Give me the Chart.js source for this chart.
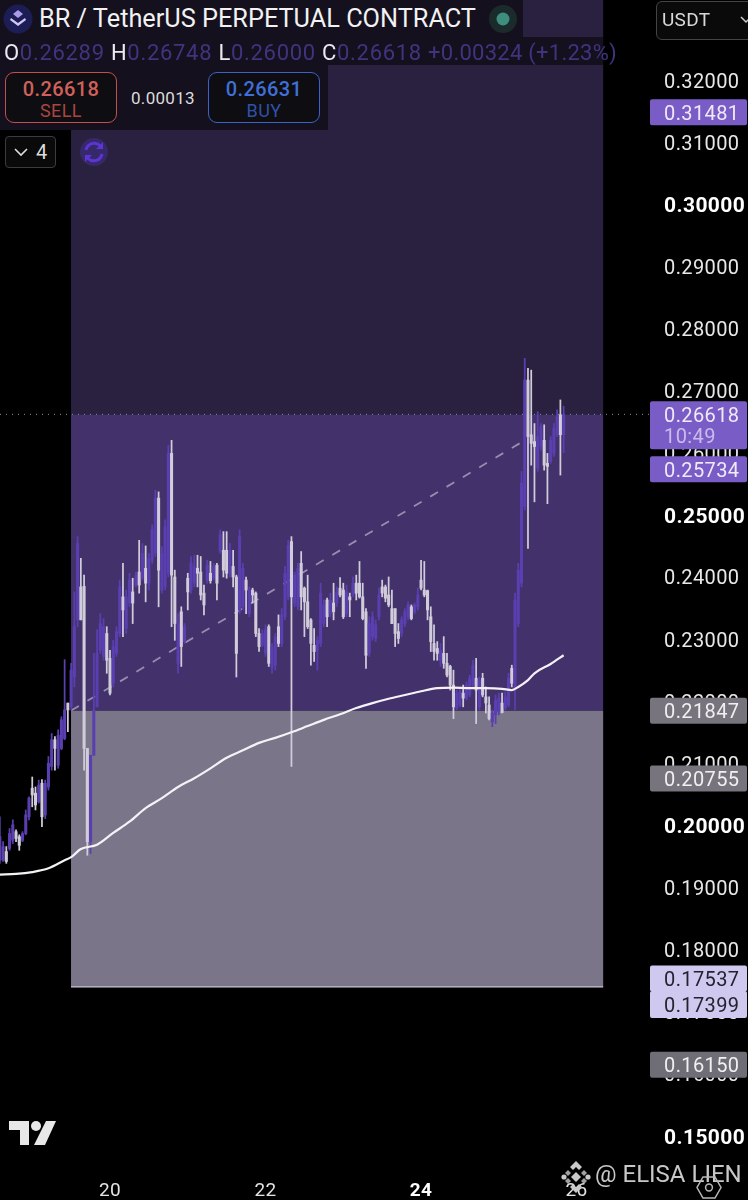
<!DOCTYPE html>
<html lang="en">
<head>
<meta charset="UTF-8">
<title>BR / TetherUS PERPETUAL CONTRACT</title>
<script src="https://cdn.jsdelivr.net/npm/chart.js"></script>
<style>
  html, body { margin: 0; padding: 0; background: #000; }
  #wrap { position: relative; width: 748px; height: 1200px; overflow: hidden; font-family: Roboto, sans-serif; }
  #chart { position: absolute; left: 0; top: 0; filter: blur(.3px); }
  .abs { position: absolute; white-space: nowrap; }
  .band { position: absolute; background: #14101d; }
  .btn { position: absolute; top: 72px; height: 49px; width: 110px; border-radius: 9px; background: #0e0d12; text-align: center; border: 1.5px solid; }
  .btn b { display: block; font-weight: 500; font-size: 20px; line-height: 20px; margin-top: 6px; letter-spacing: .4px; }
  .btn span { display: block; font-size: 18px; line-height: 20px; margin-top: 2px; letter-spacing: .4px; }
  .dim { color: #41347f; }
  .lt { color: #ece9f2; }
</style>
</head>
<body>
<div id="wrap">
  <canvas id="chart" width="748" height="1200"></canvas>

  <!-- header -->
  <div class="band" style="left:0;top:0;width:523px;height:37px"></div>
  <div class="band" style="left:0;top:37px;width:603px;height:28px"></div>
  <div class="band" style="left:0;top:65px;width:328px;height:65px"></div>

  <svg class="abs" style="left:3px;top:4px" width="30" height="30" viewBox="0 0 30 30">
    <circle cx="15" cy="15" r="14.5" fill="#1c1d55"/>
    <path d="M15 6l5 4-5 4-5-4z" fill="#a99be8"/>
    <path d="M8 14l7 5 7-5 1 2-8 6-8-6z" fill="#cfc6f4"/>
  </svg>
  <div class="abs" style="left:39px;top:4px;font-size:25.3px;line-height:30px;color:#f2f2f2">BR / TetherUS PERPETUAL CONTRACT</div>
  <svg class="abs" style="left:489px;top:5px" width="28" height="28">
    <circle cx="14" cy="14" r="14" fill="#1b2b2c"/>
    <circle cx="14" cy="14" r="6.5" fill="#3f8d7c"/>
  </svg>
  <div class="abs" style="left:4px;top:40px;font-size:22px;line-height:26px;letter-spacing:.7px">
    <span class="lt">O</span><span class="dim">0.26289</span>
    <span class="lt">H</span><span class="dim">0.26748</span>
    <span class="lt">L</span><span class="dim">0.26000</span>
    <span class="lt">C</span><span class="dim">0.26618</span>
    <span class="dim" style="letter-spacing:.25px">+0.00324 (+1.23%)</span>
  </div>

  <div class="btn" style="left:5px;border-color:#c4504e"><b style="color:#d0605a">0.26618</b><span style="color:#a8473f">SELL</span></div>
  <div class="abs" style="left:131px;top:88px;font-size:17px;line-height:20px;color:#dcdcdc;letter-spacing:.3px">0.00013</div>
  <div class="btn" style="left:208px;border-color:#3d62c6"><b style="color:#406fd6">0.26631</b><span style="color:#2f52a8">BUY</span></div>

  <div class="abs" style="left:5px;top:136px;width:49px;height:30px;border:1px solid #3c3c3c;border-radius:4px;background:#0a0a0a"></div>
  <svg class="abs" style="left:13px;top:146px" width="16" height="12"><path d="M2 3l6 6 6-6" fill="none" stroke="#ddd" stroke-width="1.6"/></svg>
  <div class="abs" style="left:36px;top:140px;font-size:20px;line-height:24px;color:#dddddd">4</div>

  <svg class="abs" style="left:79px;top:137px" width="30" height="30" viewBox="0 0 30 30">
    <circle cx="15" cy="15" r="14" fill="#36296a"/>
    <path d="M7 13a8.4 8.4 0 0 1 14-4.5" fill="none" stroke="#5e34d6" stroke-width="3"/>
    <path d="M23 17a8.4 8.4 0 0 1-14 4.5" fill="none" stroke="#5e34d6" stroke-width="3"/>
    <path d="M24 5v7h-7z M6 25v-7h7z" fill="#5e34d6"/>
  </svg>

  <div class="abs" style="left:656px;top:1px;width:100px;height:37px;border:1px solid #444;border-radius:6px;background:#0a0a0a"></div>
  <div class="abs" style="left:662px;top:8px;font-size:19px;line-height:24px;color:#d8d8d8;letter-spacing:.3px">USDT</div>
  <svg class="abs" style="left:740px;top:15px" width="8" height="10"><path d="M1 2l5 5 5-5" fill="none" stroke="#ccc" stroke-width="1.5"/></svg>

  <!-- footer marks -->
  <svg class="abs" style="left:9px;top:1121px" width="47" height="24" viewBox="0 0 47 24" fill="#e8e8e8">
    <path d="M0 0h20v24h-9V9H0z"/><circle cx="27" cy="5" r="5"/><path d="M37 0h10L36 24H25z"/>
  </svg>
  <svg class="abs" style="left:561px;top:1160px" width="30" height="34" viewBox="0 0 30 34" fill="#c9c9c9">
    <path d="M15 1l6 6-3 3-3-3-3 3-3-3z"/><path d="M15 33l6-6-3-3-3 3-3-3-3 3z"/>
    <path d="M15 12l5 5-5 5-5-5z"/><circle cx="3" cy="17" r="2.6"/><circle cx="27" cy="17" r="2.6"/>
    <path d="M7 10l3 3-3 3-3-3z" opacity=".8"/><path d="M23 10l3 3-3 3-3-3z" opacity=".8"/>
    <path d="M7 18l3 3-3 3-3-3z" opacity=".8"/><path d="M23 18l3 3-3 3-3-3z" opacity=".8"/>
  </svg>
  <div class="abs" style="left:595px;top:1159px;font-size:24px;line-height:30px;color:#c8c8c8">@ ELISA LIEN</div>
  <svg class="abs" style="left:696px;top:1175px" width="26" height="25" viewBox="0 0 26 25">
    <path d="M7 2h12l6 10.5L19 23H7L1 12.5z" fill="none" stroke="#b8b8b8" stroke-width="1.5"/>
    <circle cx="13" cy="12.5" r="3.4" fill="none" stroke="#b8b8b8" stroke-width="1.5"/>
  </svg>
</div>

<script>
const firstHour = -34; // hours relative to the "20" tick, one candle per hour

const opens = [
  0.1944,0.1944,0.1958,0.1963,0.1976,0.1990,0.1982,0.1976,0.1987,0.2014,
  0.2060,0.2052,0.2038,0.2068,0.2017,0.2062,0.2095,0.2138,0.2097,0.2124,
  0.2140,0.2197,0.2191,0.2239,0.2331,0.2384,0.2385,0.2124,0.1974,0.2113,
  0.2191,0.2282,0.2272,0.2309,0.2269,0.2229,0.2277,0.2309,0.2368,0.2317,
  0.2358,0.2376,0.2387,0.2408,0.2398,0.2414,0.2390,0.2427,0.2438,0.2527,
  0.2379,0.2384,0.2406,0.2599,0.2400,0.2261,0.2344,0.2296,0.2398,0.2379,
  0.2390,0.2414,0.2408,0.2374,0.2395,0.2406,0.2398,0.2419,0.2441,0.2443,
  0.2443,0.2406,0.2417,0.2400,0.2347,0.2352,0.2395,0.2341,0.2379,0.2374,
  0.2309,0.2290,0.2277,0.2320,0.2253,0.2258,0.2320,0.2293,0.2336,0.2368,
  0.2457,0.2358,0.2352,0.2422,0.2382,0.2360,0.2331,0.2290,0.2282,0.2293,
  0.2325,0.2363,0.2341,0.2358,0.2358,0.2382,0.2379,0.2341,0.2368,0.2371,
  0.2390,0.2390,0.2368,0.2344,0.2277,0.2304,0.2301,0.2336,0.2384,0.2384,
  0.2371,0.2349,0.2349,0.2312,0.2309,0.2325,0.2336,0.2352,0.2344,0.2352,
  0.2395,0.2379,0.2378,0.2336,0.2293,0.2285,0.2266,0.2277,0.2261,0.2256,
  0.2226,0.2189,0.2194,0.2213,0.2205,0.2210,0.2226,0.2237,0.2191,0.2237,
  0.2207,0.2194,0.2167,0.2178,0.2183,0.2197,0.2189,0.2194,0.2253,0.2218,
  0.2325,0.2390,0.2513,0.2717,0.2629,0.2618,0.2575,0.2610,0.2620,0.2583,
  0.2586,0.2599,0.2629,0.2661,0.26289
];
const highs = [
  0.2014,0.1974,0.1966,0.1995,0.2009,0.1993,0.1985,0.1990,0.2025,0.2046,
  0.2078,0.2062,0.2073,0.2074,0.2073,0.2111,0.2148,0.2143,0.2154,0.2175,
  0.2267,0.2197,0.2261,0.2376,0.2465,0.2430,0.2403,0.2124,0.2113,0.2277,
  0.2315,0.2341,0.2333,0.2320,0.2282,0.2298,0.2320,0.2395,0.2422,0.2379,
  0.2406,0.2398,0.2408,0.2459,0.2454,0.2450,0.2438,0.2484,0.2540,0.2537,
  0.2449,0.2492,0.2612,0.2620,0.2411,0.2341,0.2352,0.2325,0.2406,0.2433,
  0.2435,0.2435,0.2433,0.2387,0.2427,0.2425,0.2422,0.2422,0.2476,0.2473,
  0.2473,0.2454,0.2443,0.2403,0.2476,0.2422,0.2400,0.2384,0.2382,0.2376,
  0.2317,0.2315,0.2323,0.2323,0.2293,0.2309,0.2339,0.2349,0.2417,0.2459,
  0.2465,0.2408,0.2422,0.2441,0.2384,0.2403,0.2333,0.2317,0.2304,0.2390,
  0.2363,0.2366,0.2374,0.2390,0.2384,0.2399,0.2390,0.2387,0.2374,0.2400,
  0.2403,0.2425,0.2390,0.2349,0.2336,0.2344,0.2331,0.2382,0.2395,0.2387,
  0.2400,0.2379,0.2349,0.2325,0.2336,0.2349,0.2360,0.2355,0.2358,0.2382,
  0.2427,0.2425,0.2379,0.2352,0.2323,0.2296,0.2293,0.2304,0.2277,0.2258,
  0.2250,0.2218,0.2221,0.2226,0.2231,0.2242,0.2266,0.2269,0.2239,0.2245,
  0.2223,0.2207,0.2186,0.2210,0.2213,0.2213,0.2215,0.2245,0.2258,0.2374,
  0.2422,0.2570,0.2752,0.2736,0.2733,0.2647,0.2666,0.2647,0.2645,0.2599,
  0.2626,0.2647,0.2669,0.2685,0.26748
];
const lows = [
  0.1939,0.1942,0.1939,0.1960,0.1971,0.1974,0.1960,0.1974,0.1985,0.2009,
  0.2030,0.2025,0.2036,0.1998,0.2011,0.2057,0.2089,0.2089,0.2092,0.2122,
  0.2138,0.2151,0.2186,0.2223,0.2320,0.2331,0.2089,0.1952,0.1955,0.2113,
  0.2191,0.2277,0.2266,0.2245,0.2210,0.2223,0.2272,0.2304,0.2304,0.2309,
  0.2352,0.2325,0.2384,0.2374,0.2395,0.2360,0.2379,0.2422,0.2433,0.2352,
  0.2374,0.2379,0.2400,0.2320,0.2298,0.2245,0.2256,0.2293,0.2347,0.2374,
  0.2384,0.2384,0.2363,0.2339,0.2390,0.2390,0.2395,0.2363,0.2438,0.2400,
  0.2398,0.2400,0.2384,0.2239,0.2341,0.2347,0.2341,0.2336,0.2358,0.2304,
  0.2280,0.2288,0.2272,0.2256,0.2245,0.2250,0.2288,0.2288,0.2331,0.2363,
  0.2095,0.2352,0.2347,0.2347,0.2304,0.2317,0.2258,0.2264,0.2250,0.2288,
  0.2320,0.2320,0.2336,0.2331,0.2352,0.2368,0.2333,0.2336,0.2336,0.2368,
  0.2363,0.2366,0.2331,0.2253,0.2272,0.2298,0.2296,0.2331,0.2368,0.2360,
  0.2352,0.2325,0.2288,0.2293,0.2304,0.2320,0.2331,0.2331,0.2341,0.2347,
  0.2379,0.2368,0.2331,0.2280,0.2266,0.2266,0.2256,0.2253,0.2239,0.2218,
  0.2172,0.2186,0.2191,0.2191,0.2202,0.2207,0.2223,0.2164,0.2186,0.2207,
  0.2181,0.2170,0.2159,0.2164,0.2178,0.2181,0.2186,0.2191,0.2223,0.2186,
  0.2320,0.2384,0.2508,0.2446,0.2580,0.2521,0.2570,0.2604,0.2572,0.2518,
  0.2583,0.2594,0.2626,0.2564,0.26000
];
const closes = [
  0.1982,0.1966,0.1942,0.1987,0.2001,0.1979,0.1968,0.1987,0.2017,0.2044,
  0.2049,0.2033,0.2065,0.2014,0.2068,0.2100,0.2138,0.2124,0.2145,0.2170,
  0.2186,0.2186,0.2250,0.2320,0.2454,0.2331,0.2124,0.1974,0.2113,0.2186,
  0.2277,0.2325,0.2320,0.2266,0.2213,0.2288,0.2312,0.2384,0.2347,0.2368,
  0.2395,0.2358,0.2403,0.2387,0.2438,0.2390,0.2430,0.2476,0.2527,0.2411,
  0.2438,0.2481,0.2599,0.2403,0.2325,0.2325,0.2288,0.2320,0.2376,0.2422,
  0.2417,0.2406,0.2371,0.2355,0.2419,0.2394,0.2417,0.2390,0.2468,0.2411,
  0.2406,0.2443,0.2400,0.2277,0.2465,0.2414,0.2379,0.2379,0.2371,0.2309,
  0.2288,0.2309,0.2315,0.2261,0.2288,0.2304,0.2293,0.2339,0.2406,0.2451,
  0.2368,0.2403,0.2414,0.2368,0.2360,0.2320,0.2293,0.2280,0.2298,0.2374,
  0.2355,0.2336,0.2363,0.2344,0.2376,0.2371,0.2336,0.2376,0.2363,0.2390,
  0.2374,0.2368,0.2333,0.2274,0.2325,0.2336,0.2323,0.2371,0.2374,0.2366,
  0.2355,0.2325,0.2309,0.2301,0.2331,0.2344,0.2355,0.2333,0.2355,0.2371,
  0.2382,0.2371,0.2347,0.2296,0.2280,0.2277,0.2282,0.2261,0.2242,0.2226,
  0.2191,0.2213,0.2215,0.2205,0.2226,0.2237,0.2258,0.2218,0.2234,0.2210,
  0.2197,0.2172,0.2181,0.2202,0.2205,0.2182,0.2207,0.2237,0.2229,0.2363,
  0.2411,0.2551,0.2717,0.2626,0.2615,0.2610,0.2626,0.2642,0.2580,0.2578,
  0.2620,0.2639,0.2658,0.2629,0.26618
];

// moving average at these candle positions
const maIndex = [0,5,10,15,20,22,25,30,35,40,45,50,55,60,65,70,75,80,85,90,95,100,105,110,115,120,125,130,135,140,145,150,155,158,160,163,165,170,174];
const maValues = [0.1921,0.1922,0.1925,0.1931,0.1944,0.1949,0.1962,0.1969,0.1988,0.2006,0.2028,0.2044,0.2062,0.2076,0.2092,0.2109,0.2121,0.2133,0.2141,0.2150,0.2160,0.2170,0.2179,0.2189,0.2197,0.2204,0.2210,0.2216,0.2221,0.2222,0.2221,0.2221,0.2220,0.2218,0.2223,0.2234,0.2245,0.2260,0.2274];

const yTicks = [0.15,0.16,0.17,0.18,0.19,0.20,0.21,0.22,0.23,0.24,0.25,0.26,0.27,0.28,0.29,0.30,0.31,0.32];
const boldTicks = [0.30,0.25,0.20,0.15];
const yMin = 0.14454, yMax = 0.33288;
const xMin = -33.95, xMax = 168.2;

// long position tool
const zoneStart = -12.03, zoneEnd = 152.2;
const stopPrice = 0.26618, entryPrice = 0.21847, bottomPrice = 0.17399;
const trendHours = [-12, 128];
const trendPrices = [0.2185, 0.2620];
const lastPrice = 0.26618;

const tagPrices = [0.31481,0.25734,0.21847,0.20755,0.17537,0.16150];
const tagColors = ['#7a5cc6','#7a5cc6','#77747e','#77747e','#d0c9ef','#6f6e76'];
const tagText = ['#efeaf8','#efeaf8','#f0f0f0','#f0f0f0','#24222e','#f0f0f0'];

const upColor = '#5a3fb0', downColor = '#d0ccd9';
const isUp = i => closes[i] >= opens[i];
const candleColor = ctx => isUp(ctx.dataIndex) ? upColor : downColor;

const zonesPlugin = {
  id: 'zones',
  beforeDraw(chart) {
    chart.ctx.letterSpacing = '0.4px';
  },
  beforeDatasetsDraw(chart) {
    const { ctx, scales: { x, y } } = chart;
    const l = x.getPixelForValue(zoneStart), r = x.getPixelForValue(zoneEnd);
    const band = (top, bottom, color) => {
      const t = y.getPixelForValue(top), b = y.getPixelForValue(bottom);
      ctx.fillStyle = color;
      ctx.fillRect(l, t, r - l, b - t);
    };
    ctx.save();
    band(yMax, stopPrice, '#2a2140');
    band(stopPrice, entryPrice, '#43316b');
    band(entryPrice, bottomPrice, '#7a7589');
    ctx.fillStyle = '#b7b2c6';
    ctx.fillRect(l, y.getPixelForValue(bottomPrice) - 1, r - l, 1.5);
    ctx.restore();
  }
};

const tagsPlugin = {
  id: 'tags',
  afterDraw(chart) {
    const { ctx, scales: { y } } = chart;
    const box = (top, h, color) => {
      ctx.fillStyle = color;
      ctx.beginPath();
      ctx.roundRect(650, top, 97, h, 2);
      ctx.fill();
    };
    ctx.save();
    ctx.font = '20px Roboto';
    ctx.textBaseline = 'middle';
    ctx.textAlign = 'left';
    tagPrices.forEach((p, i) => {
      let cy = y.getPixelForValue(p);
      box(cy - 13, 26, tagColors[i]);
      ctx.fillStyle = tagText[i];
      ctx.fillText(p.toFixed(5), 664, cy + 2.5);
    });
    // the two light tags sit stacked, the lower one is pushed down
    const low = y.getPixelForValue(bottomPrice) + 17;
    box(low - 13, 27, tagColors[4]);
    ctx.fillStyle = tagText[4];
    ctx.fillText(bottomPrice.toFixed(5), 664, low + 2.5);
    // last price with countdown
    const last = y.getPixelForValue(lastPrice);
    box(last - 13, 48, '#7a5cc6');
    ctx.fillStyle = '#efeaf8';
    ctx.fillText(lastPrice.toFixed(5), 664, last + 2.5);
    ctx.fillStyle = '#c9bcec';
    ctx.fillText('10:49', 664, last + 24);
    ctx.restore();
  }
};

const isBoldY = ctx => !!ctx.tick && boldTicks.includes(ctx.tick.value);
const isBoldX = ctx => !!ctx.tick && ctx.tick.value === 96;

new Chart(document.getElementById('chart').getContext('2d'), {
  data: {
    datasets: [
      {
        type: 'line', order: 0,
        data: maIndex.map((n, i) => ({ x: firstHour + n, y: maValues[i] })),
        borderColor: '#f4f2f6', borderWidth: 2.2, pointRadius: 0, cubicInterpolationMode: 'monotone'
      },
      {
        type: 'bar', order: 1, grouped: false, barThickness: 2.4,
        data: opens.map((o, i) => ({ x: firstHour + i, y: [o, closes[i]] })),
        backgroundColor: candleColor
      },
      {
        type: 'bar', order: 2, grouped: false, barThickness: 1.1,
        data: lows.map((l, i) => ({ x: firstHour + i, y: [l, highs[i]] })),
        backgroundColor: candleColor
      },
      {
        type: 'line', order: 3,
        data: trendHours.map((h, i) => ({ x: h, y: trendPrices[i] })),
        borderColor: '#968eae', borderWidth: 1.8, borderDash: [9, 10], pointRadius: 0
      },
      {
        type: 'line', order: 4,
        data: [{ x: xMin, y: lastPrice }, { x: xMax, y: lastPrice }],
        borderColor: '#8f88a8', borderWidth: 1, borderDash: [1, 5], pointRadius: 0
      }
    ]
  },
  options: {
    responsive: false,
    animation: false,
    devicePixelRatio: 1,
    layout: { padding: 0 },
    plugins: { legend: { display: false }, tooltip: { enabled: false } },
    scales: {
      x: {
        type: 'linear', offset: false, min: xMin, max: xMax,
        grid: { display: false, drawTicks: false }, border: { display: false },
        afterFit: s => { s.height = 30; s.paddingLeft = 0; s.paddingRight = 0; },
        ticks: {
          stepSize: 48, includeBounds: false, maxRotation: 0, padding: 10,
          callback: v => String(20 + v / 24),
          color: ctx => isBoldX(ctx) ? '#ffffff' : '#e4e4e4',
          font: ctx => ({ family: 'Roboto', size: 19, weight: isBoldX(ctx) ? 'bold' : 'normal' })
        }
      },
      y: {
        type: 'linear', position: 'right', min: yMin, max: yMax,
        grid: { display: false, drawTicks: false }, border: { display: false },
        afterFit: s => { s.width = 93; s.paddingTop = 0; s.paddingBottom = 0; },
        afterBuildTicks: s => { s.ticks = yTicks.map(v => ({ value: v })); },
        ticks: {
          autoSkip: false, padding: 9, labelOffset: 2.5,
          callback: v => v.toFixed(5),
          color: ctx => isBoldY(ctx) ? '#ffffff' : '#e8e8e8',
          font: ctx => ({ family: 'Roboto', size: isBoldY(ctx) ? 21 : 20, weight: isBoldY(ctx) ? 'bold' : 'normal' })
        }
      }
    }
  },
  plugins: [zonesPlugin, tagsPlugin]
});
</script>
</body>
</html>
